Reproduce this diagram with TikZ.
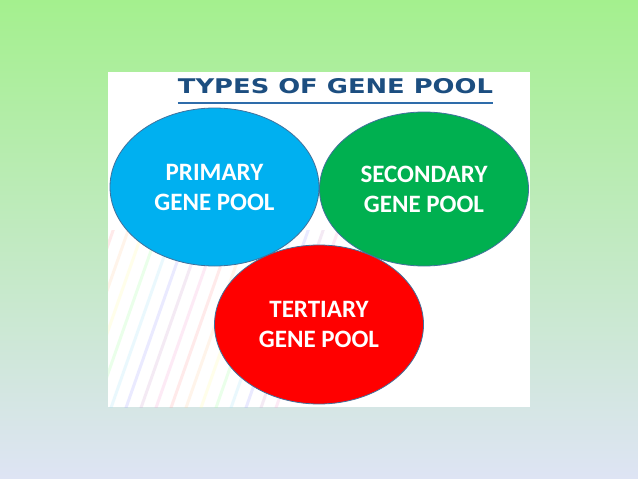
\documentclass[tikz,border=0pt]{standalone}
\usepackage{fontspec}
\setmainfont{Carlito}
\newfontfamily\titlefont{DejaVu Sans}
\usepackage{tikz}
\usetikzlibrary{shapes.geometric, positioning}

\definecolor{bgtop}{RGB}{164,240,142}
\definecolor{bgmid}{RGB}{194,208,236}
\definecolor{bgbot}{RGB}{222,228,244}
\definecolor{primaryblue}{HTML}{00B0F0}
\definecolor{secondarygreen}{HTML}{00B050}
\definecolor{tertiaryred}{HTML}{FF0000}
\definecolor{rimblue}{HTML}{41719C}
\definecolor{titleblue}{RGB}{28,78,128}
\definecolor{lineblue}{RGB}{46,108,170}

\begin{document}
\begin{tikzpicture}[x=1pt, y=-1pt,
        pool/.style={ellipse, draw=rimblue, thick, minimum width=209pt, minimum height=158pt, inner sep=0pt, align=center, text=white, font=\bfseries\fontsize{25}{30}\selectfont},
        heading/.style={inner sep=0pt, text=titleblue, font=\titlefont\bfseries},
        underline/.style={lineblue, line width=2pt}
    ]
        \useasboundingbox (0,0) rectangle (638,479);
        \shade[top color=bgtop, middle color=bgmid, bottom color=bgbot] (0,0) rectangle (638,479);
        \fill[white] (108,72) rectangle (530,407);

        % faint rainbow stripes behind the circles
        \begin{scope}
            \clip (108,230) rectangle (340,407);
            \foreach \col [count=\i] in {red, orange, yellow, green, cyan, blue, violet, magenta, red, orange, yellow, green, cyan, blue, violet, magenta}
                \draw[\col!40, line width=3pt, opacity=0.2] (30+\i*15, 425) -- ++(70,-200);
        \end{scope}

        \node[heading, anchor=base] (title) at (335.5,93) {\resizebox{315pt}{15pt}{TYPES OF GENE POOL}};
        \draw[underline] ([yshift=-10pt]title.base west) -- ([yshift=-10pt]title.base east);

        \node[pool, fill=primaryblue] (primary) at (214.5,187) {PRIMARY\\GENE POOL};
        \node[pool, fill=secondarygreen, minimum height=154pt] (secondary) at (424,189) {SECONDARY\\GENE POOL};
        \node[pool, fill=tertiaryred, minimum height=159pt] (tertiary) at (319,324.5) {TERTIARY\\GENE POOL};
    \end{tikzpicture}
\end{document}
